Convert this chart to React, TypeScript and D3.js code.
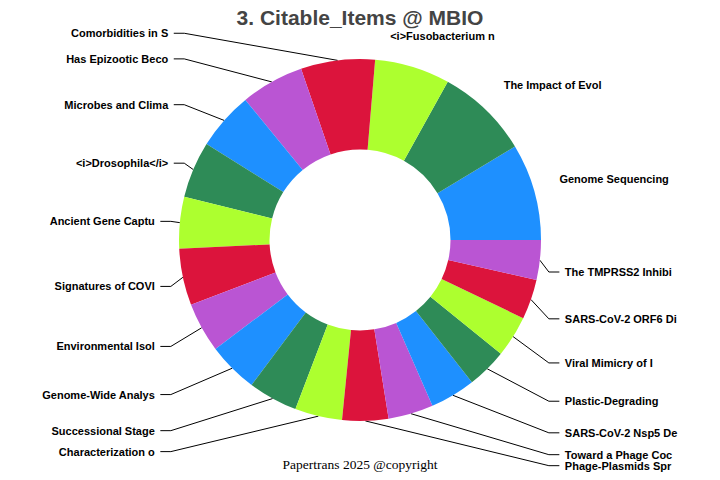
import React, { useEffect, useRef } from 'react';
import * as d3 from 'd3';

const labels = [
  "Genome Sequencing", "The Impact of Evol", "<i>Fusobacterium n", "Comorbidities in S",
  "Has Epizootic Beco", "Microbes and Clima", "<i>Drosophila</i>", "Ancient Gene Captu",
  "Signatures of COVI", "Environmental Isol", "Genome-Wide Analys", "Successional Stage",
  "Characterization o", "Phage-Plasmids Spr", "Toward a Phage Coc", "SARS-CoV-2 Nsp5 De",
  "Plastic-Degrading", "Viral Mimicry of I", "SARS-CoV-2 ORF6 Di", "The TMPRSS2 Inhibi",
];
const values = [
  31.1, 29.9, 24.2, 23.8, 20.3, 18.7, 18.2, 16.6, 18.2, 16.0,
  16.2, 15.9, 15.2, 14.8, 14.5, 14.6, 12.9, 13.3, 12.8, 12.8,
];
const colors = ["#1E90FF", "#2E8B57", "#ADFF2F", "#DC143C", "#BA55D3"];
const title = "3. Citable_Items @ MBIO";
const caption = "Papertrans 2025 @copyright";

const W = 720;
const H = 480;

export default function App() {
  const svgRef = useRef<SVGSVGElement>(null);

  useEffect(() => {
    if (!svgRef.current) return;
    const svg = d3.select(svgRef.current);
    svg.selectAll("*").remove();

    const cx = 360, cy = 240, R = 181, r0 = 90.5;
    const sans = "'Liberation Sans', Arial, sans-serif";

    // counterclockwise from 3 o'clock
    const pie = d3.pie<number>().sort(null).value(d => d)
      .startAngle(Math.PI / 2).endAngle(Math.PI / 2 - 2 * Math.PI);
    const arcs = pie(values);
    const arc = d3.arc<d3.PieArcDatum<number>>().innerRadius(r0).outerRadius(R);

    const info = arcs.map((d, i) => {
      const a = (d.startAngle + d.endAngle) / 2;
      const sx = Math.sin(a), sy = Math.cos(a);
      // a slice that reaches below the centre line counts as "lower"
      const lower = Math.min(Math.cos(d.startAngle), Math.cos(d.endAngle)) < -1e-6;
      const quad = sx >= 0 ? (lower ? 4 : 1) : (lower ? 3 : 2);
      return { i, sx, sy, quad, px: cx + R * sx, py: cy - R * sy, lx: 0, ly: 0 };
    });

    // labels pulled out with a leader line (all but the upper right ones)
    const nudge: Record<number, number> = { 2: 7, 3: 2, 4: 8 };
    [2, 3, 4].forEach(q => {
      const grp = info.filter(d => d.quad === q);
      const edge = R * d3.max(grp, d => Math.abs(d.sx))! + 25;
      grp.forEach(d => {
        d.lx = q === 4 ? cx + edge : cx - edge;
        d.ly = cy + nudge[q] - 1.19 * R * d.sy;
      });
      const gap = 11;
      if (q === 2) {
        grp.sort((a, b) => b.ly - a.ly);
        for (let k = 1; k < grp.length; k++)
          if (grp[k].ly > grp[k - 1].ly - gap) grp[k].ly = grp[k - 1].ly - gap;
      } else {
        grp.sort((a, b) => a.ly - b.ly);
        for (let k = 1; k < grp.length; k++)
          if (grp[k].ly < grp[k - 1].ly + gap) grp[k].ly = grp[k - 1].ly + gap;
      }
    });

    const lined = info.filter(d => d.quad !== 1);
    svg.append("g")
      .selectAll("polyline")
      .data(lined)
      .enter()
      .append("polyline")
      .attr("fill", "none")
      .attr("stroke", "#000")
      .attr("stroke-width", 1)
      .attr("points", d => {
        const s = d.quad === 4 ? -1 : 1;
        const x1 = d.lx + s * 5.5, x2 = d.lx + s * 16;
        return `${x1},${d.ly} ${x2},${d.ly} ${d.px},${d.py}`;
      });

    svg.append("g")
      .attr("transform", `translate(${cx},${cy})`)
      .selectAll("path")
      .data(arcs)
      .enter()
      .append("path")
      .attr("d", arc)
      .attr("fill", (_, i) => colors[i % colors.length]);

    const lab = svg.append("g")
      .style("font-family", sans)
      .style("font-size", "11px")
      .style("font-weight", "bold")
      .attr("fill", "#000");

    lab.selectAll("text.lined")
      .data(lined)
      .enter()
      .append("text")
      .attr("class", "lined")
      .attr("x", d => d.lx)
      .attr("y", d => d.ly + 4)
      .attr("text-anchor", d => (d.quad === 4 ? "start" : "end"))
      .text(d => labels[d.i]);

    // upper right labels sit just outside their slice, no leader line
    const Rt = 207;
    lab.selectAll("text.free")
      .data(info.filter(d => d.quad === 1))
      .enter()
      .append("text")
      .attr("class", "free")
      .attr("x", d => cx + Rt * d.sx - (d.sx < 0.5 ? 30 : 0))
      .attr("y", d => cy - Rt * d.sy - 2)
      .attr("text-anchor", "start")
      .text(d => labels[d.i]);

    svg.append("text")
      .attr("x", 360)
      .attr("y", 25)
      .attr("text-anchor", "middle")
      .style("font-family", sans)
      .style("font-size", "21px")
      .style("font-weight", "bold")
      .attr("fill", "#444")
      .text(title);

    svg.append("text")
      .attr("x", 360)
      .attr("y", 469)
      .attr("text-anchor", "middle")
      .style("font-family", "'Liberation Serif', 'Times New Roman', serif")
      .style("font-size", "13.5px")
      .attr("fill", "#000")
      .text(caption);
  }, []);

  return (
    <svg
      ref={svgRef}
      width={W}
      height={H}
      style={{ position: "absolute", left: 0, top: 0, background: "#fff", display: "block" }}
    />
  );
}
